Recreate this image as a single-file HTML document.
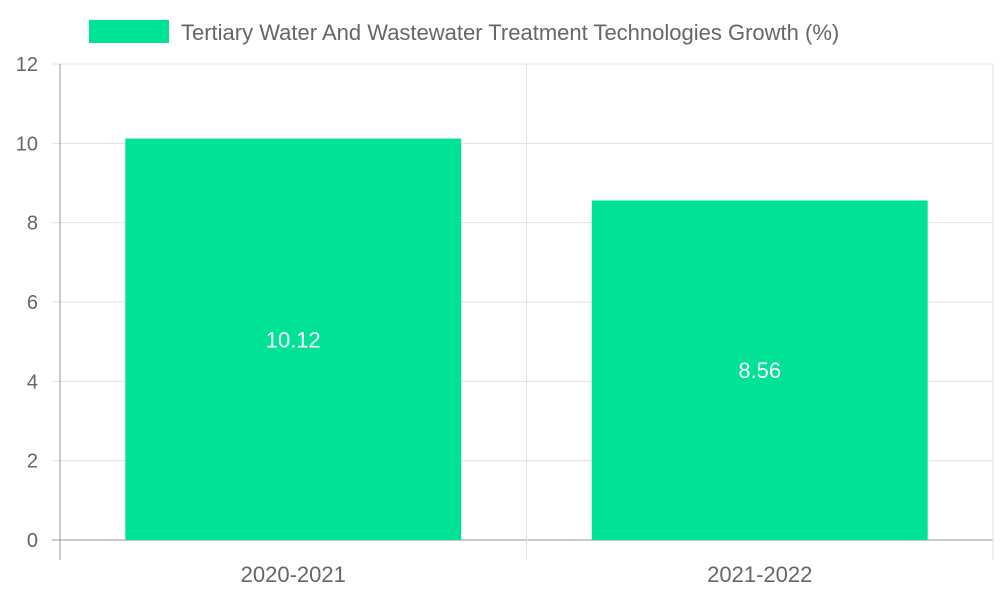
<!DOCTYPE html>
<html><head><meta charset="utf-8"><style>
body{margin:0;background:#fff;}
svg{display:block;font-family:"Liberation Sans",sans-serif;}
</style></head><body>
<svg id="chart" width="1000" height="600">
<g>
<rect x="89" y="20" width="80" height="23" fill="#00e396"></rect>
<text x="181" y="40" font-size="22" fill="#666">Tertiary Water And Wastewater Treatment Technologies Growth (%)</text>
</g>
<g id="grid"></g>
<g id="bars"></g>
<g id="axes"></g>
</svg>
<script>
const categories=["2020-2021","2021-2022"];
const values=[10.12,8.56];
const yTicks=[0,2,4,6,8,10,12];
const NS="http://www.w3.org/2000/svg";
const L=60,R=993,T=64,B=540,yMax=12;
const y=v=>B-(v/yMax)*(B-T);
const bw=(R-L)/categories.length;
const x=i=>L+bw*i;
function mk(tag,attrs,parent){const e=document.createElementNS(NS,tag);for(const k in attrs)e.setAttribute(k,attrs[k]);parent.appendChild(e);return e;}
const grid=document.getElementById('grid'),bars=document.getElementById('bars'),axes=document.getElementById('axes');
yTicks.forEach(t=>{
  const ln=mk('line',{x1:52,x2:R,y1:y(t),y2:y(t),stroke:t===0?'#999':'#e0e0e0','stroke-width':1},grid);
  
  
  const tx=mk('text',{x:38,y:y(t)+7,'text-anchor':'end','font-size':20,fill:'#666'},axes);
  tx.textContent=t;
  
  
});
for(let i=0;i<=categories.length;i++){
  const ln=mk('line',{x1:x(i),x2:x(i),y1:T,y2:560,stroke:i===0?'#999':'#e0e0e0','stroke-width':1},grid);
  
  
}
categories.forEach((c,i)=>{
  const w=bw*0.72,cx=x(i)+bw/2;
  const r=mk('rect',{x:cx-w/2,y:y(values[i]),width:w,height:B-y(values[i]),fill:'#00e396'},bars);
  
  
  const v=mk('text',{x:cx,y:(y(values[i])+B)/2+8,'text-anchor':'middle','font-size':22,fill:'#fff'},bars);
  v.textContent=values[i];
  
  
  const t=mk('text',{x:cx,y:582,'text-anchor':'middle','font-size':22,fill:'#666'},axes);
  t.textContent=c;
  
  
});
</script>
</body></html>
